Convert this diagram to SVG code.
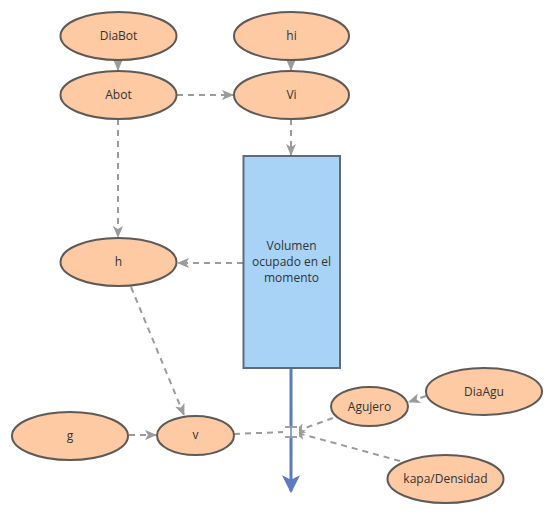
<svg xmlns="http://www.w3.org/2000/svg" width="554" height="514" viewBox="0 0 554 514">
<style>
.n{fill:#fdcaa4;stroke:#5e5a57;stroke-width:2}
.t{font-family:"Open Sans","Liberation Sans",sans-serif;font-size:12px;fill:#333;text-anchor:middle}
.d{fill:none;stroke:#9b9b9b;stroke-width:2;stroke-dasharray:6,5;marker-end:url(#a)}
.s{fill:none;stroke:#9b9b9b;stroke-width:2;marker-end:url(#a)}
</style>
<defs>
<marker id="a" viewBox="0 0 12 12" refX="11" refY="6" markerWidth="12" markerHeight="12" markerUnits="userSpaceOnUse" orient="auto">
<path d="M0,1 L12,6 L0,11 L3,6 Z" fill="#9b9b9b"/>
</marker>
<marker id="b" viewBox="0 0 16 16" refX="14" refY="8" markerWidth="18" markerHeight="18" markerUnits="userSpaceOnUse" orient="auto">
<path d="M0,0 L16,8 L0,16 L4,8 Z" fill="#5b7bbf"/>
</marker>
</defs>
<rect width="554" height="514" fill="#fff"/>
<g id="connectors">
<line class="s" x1="118" y1="60" x2="118" y2="70"/>
<line class="s" x1="291" y1="60" x2="291" y2="70"/>
<line class="d" x1="177" y1="95" x2="233" y2="95"/>
<line class="d" x1="118" y1="119" x2="118" y2="237"/>
<line class="d" x1="291" y1="119" x2="291" y2="155"/>
<line class="d" x1="243" y1="263" x2="178" y2="263"/>
<line class="d" x1="131" y1="287" x2="184" y2="415"/>
<line class="d" x1="129" y1="435" x2="156" y2="435"/>
<line x1="234" y1="434" x2="284" y2="432" fill="none" stroke="#9b9b9b" stroke-width="2" stroke-dasharray="6,5"/>
<line class="d" x1="426" y1="396" x2="409" y2="402"/>
<line class="d" x1="333" y1="418" x2="294" y2="432"/>
<line class="d" x1="400" y1="461" x2="294" y2="432"/>
<line x1="291" y1="369" x2="291" y2="491" stroke="#5b7bbf" stroke-width="3" marker-end="url(#b)"/>
<g id="valve">
<rect x="283" y="426" width="16" height="12" fill="#fff"/>
<path d="M285,427 L297,427 M291,427 L291,437 M285,437 L297,437" stroke="#7a8494" stroke-width="1.5" fill="none"/>
</g>
</g>
<g id="DiaBot"><ellipse class="n" cx="118.5" cy="36" rx="58" ry="24"/><text class="t" x="118.5" y="40">DiaBot</text></g>
<g id="hi"><ellipse class="n" cx="291.5" cy="36" rx="57.5" ry="24"/><text class="t" x="291.5" y="40">hi</text></g>
<g id="Abot"><ellipse class="n" cx="118.5" cy="95" rx="58" ry="24"/><text class="t" x="118.5" y="99">Abot</text></g>
<g id="Vi"><ellipse class="n" cx="291.5" cy="95" rx="57.5" ry="24"/><text class="t" x="291.5" y="99">Vi</text></g>
<g id="Volumen"><rect x="243.5" y="156" width="96.5" height="212" fill="#a8d3f7" stroke="#5f6b79" stroke-width="2"/>
<text class="t" x="291.5" y="250">Volumen</text><text class="t" x="291.5" y="266">ocupado en el</text><text class="t" x="291.5" y="282">momento</text></g>
<g id="h"><ellipse class="n" cx="118.5" cy="262" rx="58" ry="24"/><text class="t" x="118.5" y="266">h</text></g>
<g id="g"><ellipse class="n" cx="70" cy="436" rx="58" ry="24"/><text class="t" x="70" y="440">g</text></g>
<g id="v"><ellipse class="n" cx="195.5" cy="435.5" rx="38.5" ry="19.5"/><text class="t" x="195.5" y="439">v</text></g>
<g id="Agujero"><ellipse class="n" cx="369.5" cy="406.5" rx="38.5" ry="19.5"/><text class="t" x="369.5" y="411">Agujero</text></g>
<g id="DiaAgu"><ellipse class="n" cx="484" cy="391.5" rx="58" ry="23.5"/><text class="t" x="484" y="396">DiaAgu</text></g>
<g id="kapa"><ellipse class="n" cx="445.5" cy="479" rx="58" ry="24"/><text class="t" x="445.5" y="483">kapa/Densidad</text></g>
</svg>
